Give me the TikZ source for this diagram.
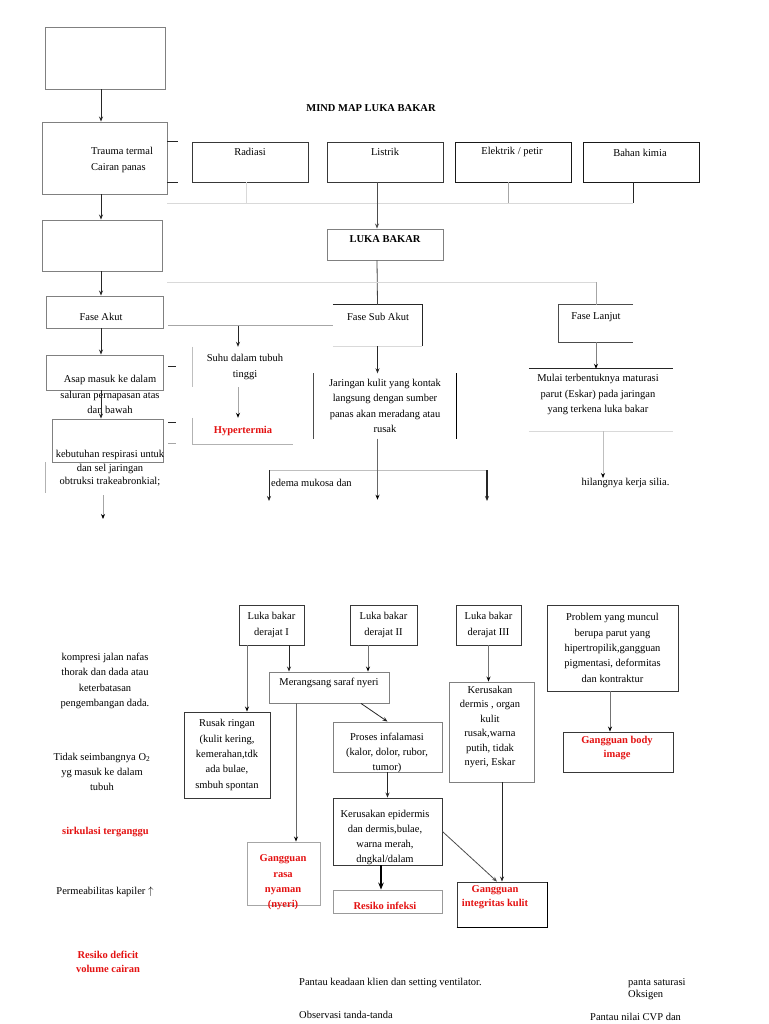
\documentclass[tikz,border=0pt]{standalone}
\usepackage{fontspec}
\setmainfont{Liberation Serif}
\usetikzlibrary{arrows.meta}
\definecolor{merah}{RGB}{228,18,18}
\begin{document}
\begin{tikzpicture}[x=1pt,y=-1pt,
  kotak/.style={draw=black!78,line width=0.9pt,inner sep=0pt},
  kotakabu/.style={draw=black!50,line width=0.9pt,inner sep=0pt},
  ruang/.style={inner sep=0pt},
  teks/.style={align=center,inner sep=0pt,font=\fontsize{10.5}{15.3}\selectfont},
  teksmerah/.style={teks,text=merah,font=\fontsize{10.5}{15.3}\selectfont\bfseries},
  panah/.style={draw=black!85,line width=0.8pt,-{Stealth[length=5pt,width=4pt]}},
  panahpudar/.style={draw=black!35,line width=0.8pt,-{Stealth[length=5pt,width=4pt,black]}},
  tipis/.style={draw=black!15,line width=0.9pt},
  sedang/.style={draw=black!35,line width=0.9pt},
  tegas/.style={draw=black!85,line width=0.9pt}]
\useasboundingbox (0,0) rectangle (768,1024);
\fill[white] (0,0) rectangle (768,1024);
\pgfmathsetmacro{\lebar}{116}
\pgfmathsetmacro{\tinggi}{40}

\node[teks,font=\fontsize{10.5}{12}\selectfont\bfseries] (judul) at (371,108) {MIND MAP LUKA BAKAR};

\node[kotakabu,minimum width=120,minimum height=62] (kosong1) at (105,58) {};
\node[kotakabu,minimum width=125,minimum height=72] (trauma) at (104.5,158) {};
\node[teks,align=left,anchor=west,font=\fontsize{10.5}{16}\selectfont] (traumaT) at (91,160) {Trauma termal\\Cairan panas};
\node[kotakabu,minimum width=120,minimum height=51] (kosong2) at (102,245.5) {};
\node[kotakabu,minimum width=117,minimum height=32] (akut) at (104.5,312) {};
\node[teks] (akutT) at (101,317) {Fase Akut};
\node[kotakabu,minimum width=117,minimum height=35] (asap) at (104.5,372.5) {};
\node[teks,font=\fontsize{10.5}{15.5}\selectfont] (asapT) at (110,394.5) {Asap masuk ke dalam\\saluran pernapasan atas\\dan bawah};
\node[kotakabu,minimum width=111,minimum height=43] (napas) at (107.5,440.5) {};
\node[teks,font=\fontsize{10.5}{13.5}\selectfont] (napasT) at (110,468.5) {kebutuhan respirasi untuk\\dan sel jaringan\\obtruksi trakeabronkial;};
\draw[panah] (kosong1.south -| 101,0) -- (trauma.north -| 101,0);
\draw[panah] (trauma.south -| 101,0) -- (kosong2.north -| 101,0);
\draw[panah] (kosong2.south -| 101,0) -- (akut.north -| 101,0);
\draw[panah] (akut.south -| 101,0) -- (asap.north -| 101,0);
\draw[panah] (asap.south -| 101,0) -- (napas.north -| 101,0);
\draw[tipis,draw=black!30] (napas.south -| 45,0) -- ++(0,31);
\coordinate (turun1) at (103,495);
\draw[panahpudar] (turun1) -- ++(0,24);
\draw[tegas] (asap.east |- 0,366) ++(5,0) -- ++(8,0);
\draw[tegas] (asap.east |- 0,422) ++(5,0) -- ++(8,0);
\draw[sedang] (asap.east |- 0,443) ++(5,0) -- ++(8,0);

\node[kotak,minimum width=\lebar,minimum height=\tinggi] (radiasi) at (250,162) {};
\node[kotak,minimum width=\lebar,minimum height=\tinggi] (listrik) at (385,162) {};
\node[kotak,draw=black!90,minimum width=\lebar,minimum height=\tinggi] (elektrik) at (513,162) {};
\node[kotak,draw=black!90,minimum width=\lebar,minimum height=\tinggi] (kimia) at (641,162) {};
\node[teks] (radiasiT) at (250,152) {Radiasi};
\node[teks] (listrikT) at (385,152) {Listrik};
\node[teks] (elektrikT) at (512,152) {Elektrik / petir};
\node[teks] (kimiaT) at (640,153) {Bahan kimia};
\draw[tegas] (trauma.east |- radiasi.north) -- ++(11,0);
\draw[tegas] (trauma.east |- radiasi.south) -- ++(11,0);
\coordinate (rel1) at (0,203);
\coordinate (radiasiB) at ([xshift=-4]radiasi.south);
\coordinate (elektrikB) at ([xshift=-5]elektrik.south);
\coordinate (kimiaB) at ([xshift=-8]kimia.south);
\draw[tipis] (trauma.east |- rel1) -- (kimiaB |- rel1);
\draw[tipis] (radiasiB) -- (radiasiB |- rel1);
\draw[sedang] (elektrikB) -- (elektrikB |- rel1);
\draw[tegas] (kimiaB) -- (kimiaB |- rel1);

\node[kotakabu,minimum width=\lebar,minimum height=31] (luka) at (385,244.5) {};
\node[teks,font=\fontsize{10.5}{12}\selectfont\bfseries] (lukaT) at (385,239) {LUKA BAKAR};
\draw[panah,draw=black!70] ([xshift=-8]listrik.south) -- ([xshift=-8]luka.north);

\node[ruang,minimum width=89,minimum height=41] (subakut) at (377.5,325.5) {};
\node[teks] (subakutT) at (378,317) {Fase Sub Akut};
\draw[tegas] (subakut.north west) -- (subakut.north east) -- (subakut.south east);
\draw[tipis] (subakut.south west) -- (subakut.south east);
\draw[draw=black!75,line width=0.8pt] ([xshift=-8]luka.south) -- (subakut.north);

\coordinate (rel2) at (0,282);
\node[ruang,minimum width=74,minimum height=37] (lanjut) at (596,323.5) {};
\node[teks] (lanjutT) at (596,317) {Fase Lanjut};
\draw[tegas,draw=black!70] (lanjut.north east) -- (lanjut.north west) -- (lanjut.south west) -- (lanjut.south east);
\draw[tipis] (trauma.east |- rel2) -- (lanjut.north |- rel2);
\draw[sedang] (lanjut.north |- rel2) -- (lanjut.north);

\node[ruang,minimum width=144,minimum height=62] (mulai) at (601,400) {};
\node[teks] (mulaiT) at (598,394.5) {Mulai terbentuknya maturasi\\parut (Eskar) pada jaringan\\yang terkena luka bakar};
\draw[tegas] (mulai.north west) -- (mulai.north east);
\draw[tipis] (mulai.south west) -- (mulai.south east);
\draw[panahpudar,draw=black!50] (lanjut.south) -- (mulai.north -| lanjut.south);
\node[teks] (hilang) at (625.5,483) {hilangnya kerja silia.};
\draw[panahpudar,draw=black!25] (mulai.south -| 603,0) -- (hilang.north -| 603,0);

\coordinate (akutK) at ([xshift=5]akut.east);
\coordinate (cabang1) at (238,325.5);
\draw[sedang] (akutK |- subakut.west) -- (subakut.west);
\node[teks,minimum width=104,minimum height=40] (suhu) at (245,367) {Suhu dalam tubuh\\tinggi};
\draw[tipis,draw=black!25] (suhu.north west) -- (suhu.south west);
\draw[panah] (cabang1) -- (suhu.north -| cabang1);
\node[teksmerah,minimum width=100,minimum height=26] (hyper) at (243,431) {Hypertermia};
\draw[tipis,draw=black!30] (hyper.north west) -- (hyper.south west) -- (hyper.south east);
\draw[panahpudar] (suhu.south -| cabang1) -- (hyper.north -| cabang1);

\node[teks,minimum width=142,minimum height=65] (jaringan) at (385,406) {Jaringan kulit yang kontak\\langsung dengan sumber\\panas akan meradang atau\\rusak};
\draw[draw=black!70,line width=0.9pt] (jaringan.north west) -- (jaringan.south west);
\draw[draw=black,line width=1.3pt] (jaringan.north east) -- (jaringan.south east);
\draw[panah] (subakut.south) -- (jaringan.north -| subakut.south);
\coordinate (cabkiri) at (269,470);
\coordinate (cabkanan) at (487,470);
\draw[tipis,draw=black!25] (cabkiri) -- (cabkanan);
\draw[panahpudar,draw=black!60] (jaringan.south -| subakut.south) -- ++(0,61);
\draw[panah] (cabkiri) -- ++(0,31);
\draw[panah,line width=1.1pt] (cabkanan) -- ++(0,31);
\node[teks,anchor=west] (edema) at (271,483) {edema mukosa dan};

\node[kotak,teks,minimum width=65,minimum height=40] (derajat1) at (271.5,625) {Luka bakar\\derajat I};
\node[kotak,teks,minimum width=67,minimum height=40] (derajat2) at (383.5,625) {Luka bakar\\derajat II};
\node[kotak,teks,minimum width=65,minimum height=40] (derajat3) at (488.5,625) {Luka bakar\\derajat III};
\node[kotak,teks,minimum width=131,minimum height=86] (problem) at (612.5,648) {Problem yang muncul\\berupa parut yang\\hipertropilik,gangguan\\pigmentasi, deformitas\\dan kontraktur};

\node[kotakabu,minimum width=120,minimum height=31] (rangsang) at (329,687.5) {};
\node[teks] (rangsangT) at (329,682.5) {Merangsang saraf nyeri};
\draw[panah] (derajat1.south -| 289,0) -- (rangsang.north -| 289,0);
\draw[panahpudar,draw=black!55] (derajat2.south -| 368,0) -- (rangsang.north -| 368,0);
\node[kotak,teks,minimum width=86,minimum height=86] (rusak) at (227,755) {Rusak ringan\\(kulit kering,\\kemerahan,tdk\\ada bulae,\\smbuh spontan};
\draw[panahpudar,draw=black!55] (derajat1.south -| 247,0) -- (rusak.north -| 247,0);

\node[kotakabu,draw=black!35,minimum width=73,minimum height=63] (nyaman) at (283.5,873.5) {};
\node[teksmerah] (nyamanT) at (283,882.5) {Gangguan\\rasa\\nyaman\\(nyeri)};
\draw[panahpudar,draw=black!60] (rangsang.south -| 296,0) -- (nyaman.north -| 296,0);

\node[kotakabu,minimum width=109,minimum height=50] (proses) at (387.5,747) {};
\node[teks] (prosesT) at (387,753) {Proses infalamasi\\(kalor, dolor, rubor,\\tumor)};
\draw[panah] (rangsang.south -| 361,0) -- (proses.north);

\node[kotak,minimum width=109,minimum height=67] (epidermis) at (387.5,831.5) {};
\node[teks] (epidermisT) at (385,837.5) {Kerusakan epidermis\\dan dermis,bulae,\\warna merah,\\dngkal/dalam};
\draw[panah] (proses.south) -- (epidermis.north);

\node[kotakabu,draw=black!40,minimum width=109,minimum height=23] (infeksi) at (387.5,901.5) {};
\node[teksmerah] (infeksiT) at (385,906) {Resiko infeksi};
\draw[panah,draw=black,line width=1.5pt,-{Stealth[length=7pt,width=5.5pt]}] (epidermis.south -| 381,0) -- (infeksi.north -| 381,0);

\node[kotakabu,minimum width=85,minimum height=100] (dermis) at (491.5,732) {};
\node[teks,font=\fontsize{10.5}{14.5}\selectfont] (dermisT) at (490,727) {Kerusakan\\dermis , organ\\kulit\\rusak,warna\\putih, tidak\\nyeri, Eskar};
\draw[panahpudar,draw=black!55] (derajat3.south) -- (dermis.north -| derajat3.south);

\node[kotak,minimum width=90,minimum height=45] (integritas) at (502,904.5) {};
\draw[draw=black,line width=1.6pt] (integritas.south west) -- (integritas.south east) -- (integritas.north east);
\node[teksmerah,font=\fontsize{10.5}{13.5}\selectfont\bfseries] (integritasT) at (495,897) {Gangguan\\integritas kulit};
\draw[panah,draw=black!70] (epidermis.east) -- ([xshift=-5]integritas.north);
\draw[panah] (dermis.south -| integritas.north) -- (integritas.north);

\node[kotak,minimum width=110,minimum height=40] (bodyimage) at (618,752) {};
\node[teksmerah,font=\fontsize{10.5}{14}\selectfont\bfseries] (bodyT) at (617,748) {Gangguan body\\image};
\draw[panahpudar,draw=black!55] (problem.south -| 610,0) -- (bodyimage.north -| 610,0);

\node[teks] (kompresi) at (105,681) {kompresi jalan nafas\\thorak dan dada atau\\keterbatasan\\pengembangan dada.};
\node[teks] (oksigen) at (102,772) {Tidak seimbangnya O\textsubscript{2}\\yg masuk ke dalam\\tubuh};
\node[teksmerah] (sirkulasi) at (105.5,832) {sirkulasi terganggu};
\node[teks] (permeabilitas) at (105,892) {Permeabilitas kapiler $\uparrow$};
\node[teksmerah,font=\fontsize{10.5}{14.5}\selectfont\bfseries] (defisit) at (108,962) {Resiko deficit\\volume cairan};

\node[teks,anchor=west] (pantau1) at (299,983) {Pantau keadaan klien dan setting ventilator.};
\node[teks,anchor=west] (observasi) at (299,1015) {Observasi tanda-tanda};
\node[teks,anchor=west,align=left,font=\fontsize{10.5}{12.5}\selectfont] (saturasi) at (628,989) {panta saturasi\\Oksigen};
\node[teks,anchor=west] (cvp) at (590,1016.5) {Pantau nilai CVP dan};
\end{tikzpicture}
\end{document}
